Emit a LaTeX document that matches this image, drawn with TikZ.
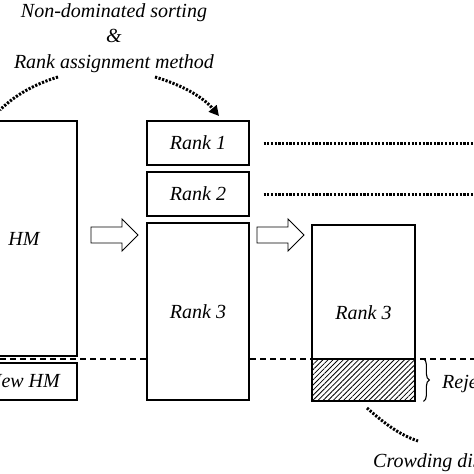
\documentclass[tikz,border=0pt]{standalone}
\usepackage{fontspec}
\setmainfont{Liberation Serif}
\usetikzlibrary{positioning, calc, arrows.meta, patterns.meta, decorations.pathreplacing}
\tikzset{
    box/.style={
           rectangle,
           draw=black, line width=1.1pt,
           fill=white,
           inner sep=0pt,
           text centered,
           font=\fontsize{20}{24}\selectfont\itshape,
           },
    lbl/.style={inner sep=0pt, font=\fontsize{20}{25.5}\selectfont\itshape},
    dotline/.style={line width=3pt, dash pattern=on 2.2pt off 1.5pt},
    cutline/.style={line width=1.1pt, dash pattern=on 6pt off 4pt},
}
\newcommand{\blockarrow}[1]{%
  \draw[line width=0.9pt, fill=white] (#1) ++(0,-8) -- ++(31,0) -- ++(0,-8)
    -- ++(16,16) -- ++(-16,16) -- ++(0,-8) -- ++(-31,0) -- cycle;}

\begin{document}
\begin{tikzpicture}[x=1pt, y=-1pt]
  \useasboundingbox (0,0) rectangle (474,474);
  \draw[cutline] (0,359) -- (474,359);
  \node[box, minimum width=106pt, minimum height=235pt] (hm)     at ( 24, 238.5) {HM};
  \node[box, minimum width=106pt, minimum height=37pt]  (newhm)  at ( 24, 381.5) {New HM};
  \node[box, minimum width=102pt, minimum height=44pt]  (rankA)  at (198, 143)   {Rank 1};
  \node[box, minimum width=102pt, minimum height=44pt]  (rankB)  at (198, 194)   {Rank 2};
  \node[box, minimum width=102pt, minimum height=177pt] (rankC)  at (198, 311.5) {Rank 3};
  \node[box, minimum width=103pt, minimum height=176pt] (keep)   at (363.5, 313) {Rank 3};
  \node[box, minimum width=103pt, minimum height=42pt,
        pattern={Lines[angle=45, distance=3.6pt, line width=0.8pt]}] (reject) at (363.5, 380) {};
  \draw[cutline] (reject.north west) -- (reject.north east);
  \coordinate (arrA) at (91, 235);
  \coordinate (arrB) at (257, 235);
  \blockarrow{arrA}
  \blockarrow{arrB}
  \coordinate (endA) at (480, 143);
  \coordinate (endB) at (480, 194);
  \draw[dotline] ([xshift=14pt]rankA.east) -- (endA);
  \draw[dotline] ([xshift=14pt]rankB.east) -- (endB);
  \node[lbl, align=center] (method) at (114, 38) {Non-dominated sorting\\\&\\Rank assignment method};
  \coordinate (mL) at (58, 77);
  \coordinate (mR) at (155, 77);
  \coordinate (hmT) at (0, 110);
  \coordinate (rkT) at (219, 116);
  \draw[dotline] (mL) .. controls (35, 84) and (15, 95) .. (hmT);
  \draw[dotline, -{Stealth[length=10pt, width=10pt, inset=0pt]}] (mR) .. controls (182, 85) and (203, 97) .. (rkT);
  \draw[decorate, decoration={brace, amplitude=6pt}, line width=1.1pt]
        ([xshift=8pt]reject.north east) -- ([xshift=8pt]reject.south east);
  \node[lbl, anchor=base west] (rejtxt) at (442, 388) {Rejected};
  \node[lbl, anchor=base west] (crowd)  at (373, 467) {Crowding distance};
  \coordinate (cA) at (367, 408);
  \coordinate (cB) at (418, 441);
  \draw[dotline] (cA) .. controls (385, 424) and (400, 435) .. (cB);
\end{tikzpicture}
\end{document}
